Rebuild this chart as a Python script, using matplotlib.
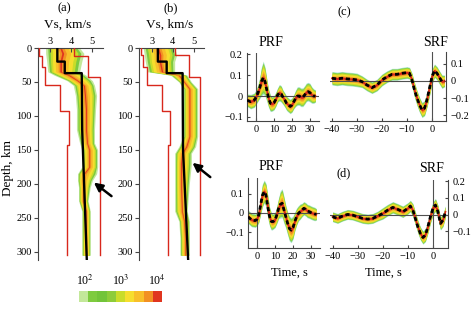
import numpy as np
import matplotlib
matplotlib.use("Agg")
import matplotlib.pyplot as plt
from matplotlib.colors import ListedColormap

W, H = 474, 323

# --- (a), (b): Vs ensemble envelope (depth, outer left, outer right, core) ---
A_Z = [0, 8, 20, 35, 40, 48, 55, 70, 90, 120, 140, 150, 175, 185, 195, 205, 225, 240, 260, 300, 305]
A_LEFT = [2.8, 2.8, 2.85, 2.9, 3.2, 3.8, 4.1, 4.2, 4.25, 4.25, 4.4, 4.5, 4.5, 4.3, 4.3, 4.35, 4.35, 4.5, 4.5, 4.5, 4.5]
A_RIGHT = [4.4, 4.6, 4.5, 4.4, 4.7, 5.0, 5.1, 5.2, 5.15, 5.1, 5.1, 5.25, 5.25, 5.2, 5.0, 4.9, 4.8, 4.9, 4.9, 4.9, 4.9]
A_CORE = [3.5, 3.6, 3.5, 3.5, 3.9, 4.3, 4.6, 4.65, 4.7, 4.7, 4.75, 4.85, 4.85, 4.6, 4.55, 4.55, 4.55, 4.7, 4.7, 4.7, 4.7]

B_Z = [0, 10, 20, 35, 40, 50, 60, 90, 130, 145, 155, 170, 200, 240, 255, 280, 305]
B_LEFT = [2.6, 2.65, 2.7, 2.8, 3.9, 4.3, 4.5, 4.5, 4.5, 4.3, 4.1, 4.1, 4.1, 4.1, 4.3, 4.35, 4.35]
B_RIGHT = [4.1, 4.2, 4.1, 4.1, 4.7, 4.9, 5.2, 5.2, 5.2, 5.1, 4.9, 4.9, 4.8, 4.7, 4.8, 4.8, 4.8]
B_CORE = [3.3, 3.4, 3.4, 3.5, 4.3, 4.55, 4.8, 4.8, 4.8, 4.65, 4.45, 4.4, 4.4, 4.45, 4.55, 4.6, 4.6]

# search bounds: layer top depth and velocity (last point = bottom)
A_RED_L_Z = [0, 12, 28, 55, 92, 143, 305]
A_RED_L_V = [2.5, 2.62, 2.76, 3.47, 3.9, 3.8, 3.8]
A_RED_R_Z = [0, 12, 43, 305]
A_RED_R_V = [4.13, 4.8, 5.35, 5.35]
B_RED_L_Z = [0, 10, 28, 55, 92, 143, 305]
B_RED_L_V = [2.5, 2.6, 2.78, 3.5, 3.87, 3.77, 3.77]
B_RED_R_Z = [0, 10, 43, 305]
B_RED_R_V = [4.1, 4.8, 5.33, 5.33]

# best model
A_BLK_Z = [0, 20, 20, 37, 37, 120, 314]
A_BLK_V = [3.35, 3.35, 3.7, 3.7, 4.5, 4.52, 4.74]
B_BLK_Z = [0, 20, 20, 37, 37, 150, 316]
B_BLK_V = [3.3, 3.3, 3.72, 3.72, 4.48, 4.5, 4.75]

A_ARROW = ((5.07, 198), (5.9, 218))
B_ARROW = ((4.95, 169), (5.8, 190))

# --- (c), (d): receiver functions ---
PRF_T = [-5, -3, -1, 0, 1, 2, 3, 4, 5, 6, 7, 8, 9, 10, 11, 12, 13, 14, 15, 16,
         17, 18, 19, 20, 21, 22, 23, 24, 25, 26, 27, 28, 29, 30, 31, 32, 33]
SRF_T = [-40, -38, -36, -34, -32, -30, -28, -26, -24, -22, -20, -18, -16, -14, -12, -10,
         -9, -8, -7, -6, -5, -4, -3, -2, -1, 0, 1, 2, 3, 4, 5]

PRF_C = [-0.02, -0.027, -0.02, -0.006, 0.013, 0.037, 0.07, 0.088, 0.07, 0.029,
         -0.011, -0.035, -0.038, -0.032, -0.016, 0.005, 0.016, 0.01, -0.006, -0.019,
         -0.035, -0.043, -0.05, -0.043, -0.027, -0.011, 0.0, 0.0, -0.006, -0.006,
         0.005, 0.018, 0.021, 0.016, 0.005, 0.0, 0.0]
PRF_C_SPREAD = [0.03, 0.035, 0.035, 0.035, 0.04, 0.05, 0.07, 0.08, 0.07, 0.055,
                0.045, 0.04, 0.035, 0.035, 0.035, 0.035, 0.04, 0.04, 0.035, 0.035,
                0.035, 0.035, 0.035, 0.035, 0.035, 0.04, 0.045, 0.045, 0.045, 0.045,
                0.045, 0.045, 0.045, 0.045, 0.04, 0.035, 0.03]
SRF_C = [0.016, 0.012, 0.016, 0.012, 0.01, 0.006, -0.004, -0.024, -0.039, -0.024,
         0.006, 0.025, 0.039, 0.039, 0.045, 0.049,
         0.045, 0.006, -0.053, -0.10, -0.14, -0.17, -0.16, -0.11, -0.043, 0.025,
         0.06, 0.045, 0.02, -0.004, 0.0]
SRF_C_SPREAD = [0.04, 0.04, 0.04, 0.04, 0.04, 0.04, 0.035, 0.035, 0.035, 0.035,
                0.035, 0.035, 0.035, 0.035, 0.035, 0.035,
                0.035, 0.04, 0.045, 0.045, 0.045, 0.045, 0.045, 0.045, 0.045, 0.045,
                0.04, 0.04, 0.04, 0.04, 0.035]
PRF_D = [-0.019, -0.036, -0.039, -0.032, -0.01, 0.041, 0.09, 0.11, 0.092, 0.032,
         -0.019, -0.044, -0.044, -0.036, -0.01, 0.024, 0.045, 0.05, 0.015, -0.019,
         -0.053, -0.08, -0.088, -0.075, -0.044, -0.019, -0.002, 0.007, 0.015, 0.024,
         0.019, 0.01, 0.007, 0.002, -0.002, -0.005, -0.007]
PRF_D_SPREAD = [0.035, 0.035, 0.035, 0.035, 0.04, 0.05, 0.06, 0.06, 0.06, 0.06,
                0.05, 0.045, 0.04, 0.04, 0.045, 0.055, 0.07, 0.075, 0.07, 0.06,
                0.06, 0.065, 0.065, 0.06, 0.05, 0.045, 0.04, 0.04, 0.035, 0.035,
                0.035, 0.035, 0.035, 0.035, 0.035, 0.035, 0.03]
SRF_D = [-0.013, -0.023, -0.009, 0.001, -0.003, -0.013, -0.023, -0.027, -0.023, -0.009,
         0.007, 0.027, 0.043, 0.031, 0.017, 0.037,
         0.051, 0.027, -0.023, -0.073, -0.113, -0.137, -0.123, -0.073, -0.013, 0.037,
         0.057, 0.017, -0.053, -0.033, 0.017]
SRF_D_SPREAD = [0.03, 0.03, 0.03, 0.03, 0.03, 0.03, 0.03, 0.03, 0.03, 0.03,
                0.035, 0.035, 0.035, 0.035, 0.035, 0.035,
                0.035, 0.04, 0.04, 0.04, 0.04, 0.04, 0.04, 0.04, 0.04, 0.04,
                0.04, 0.04, 0.04, 0.04, 0.035]

CBAR_COLORS = ["#c3e89a", "#7ecb3f", "#72c43a", "#8dcc3a", "#c9dc2a",
               "#f6de2e", "#f8bf2a", "#f29023", "#e0351f"]
VS_COLORS = ["#c3e89a", "#7ecb3f", "#c9dc2a", "#f6de2e", "#f8bf2a", "#f29023", "#e0351f"]
VS_FRAC = [1.0, 0.86, 0.72, 0.58, 0.38, 0.18, 0.05]
RF_COLORS = ["#a9e3cf", "#86d24a", "#c9dc2a", "#f6de2e", "#f5b02a", "#f08a22", "#e0351f"]
RF_FRAC = [1.0, 0.9, 0.75, 0.6, 0.42, 0.28, 0.12]

SPINE = "#444444"
TICK_FS = 7.5

plt.rcParams["font.family"] = ["Liberation Serif", "DejaVu Serif"]
plt.rcParams["mathtext.fontset"] = "stix"

fig = plt.figure(figsize=(W / 100, H / 100), dpi=100)


def px_axes(l, t, r, b):
    ax = fig.add_axes([l / W, 1 - b / H, (r - l) / W, (b - t) / H])
    ax.patch.set_visible(False)
    return ax


def px_text(x, y, s, **kw):
    fig.text(x / W, 1 - y / H, s, ha="center", va="center", **kw)


def vs_panel(box, xlim, z, left, right, core, red_l, red_r, blk, arrow):
    ax = px_axes(*box)
    z, left, right, core = map(np.asarray, (z, left, right, core))
    for f, col in zip(VS_FRAC, VS_COLORS):
        ax.fill_betweenx(z, core + f * (left - core), core + f * (right - core),
                         color=col, lw=0, zorder=1)
    for zz, vv in (red_l, red_r):
        ax.plot(vv, zz, drawstyle="steps-pre", color="#d8281c", lw=1.0, zorder=3)
    ax.plot(blk[1], blk[0], color="k", lw=1.7, zorder=4)
    ax.annotate("", xy=arrow[0], xytext=arrow[1], annotation_clip=False,
                arrowprops=dict(arrowstyle="-|>,head_length=0.5,head_width=0.25",
                                color="k", lw=1.8, shrinkA=0, shrinkB=0))
    ax.set_xlim(*xlim)
    ax.set_ylim(312, 0)
    ax.xaxis.tick_top()
    ax.set_xticks([3, 4, 5])
    ax.set_yticks([0, 50, 100, 150, 200, 250, 300])
    ax.tick_params(axis="x", direction="in", length=3, pad=1.5, labelsize=TICK_FS,
                   color=SPINE, width=0.8)
    ax.tick_params(axis="y", direction="out", length=3, pad=1.5, labelsize=TICK_FS,
                   color=SPINE, width=0.8)
    for s in ("right", "bottom"):
        ax.spines[s].set_visible(False)
    for s in ("left", "top"):
        ax.spines[s].set_color(SPINE)
        ax.spines[s].set_linewidth(0.8)
    return ax


def rf_panel(box, t, med, spread, xlim, ylim, yticks, ylabels, xticks, side):
    ax = px_axes(*box)
    t, med, spread = map(np.asarray, (t, med, spread))
    for f, col in zip(RF_FRAC, RF_COLORS):
        ax.fill_between(t, med - f * spread, med + f * spread, color=col, lw=0, zorder=1)
    ax.axhline(0, color="#505050", lw=0.8, zorder=2)
    ax.axvline(0, color="#505050", lw=0.8, zorder=2)
    ax.plot(t, med, color="#d8261c", lw=1.2, zorder=3)
    ax.plot(t, med, color="k", lw=2.0, dashes=(1.5, 1.0), zorder=4)
    ax.set_xlim(*xlim)
    ax.set_ylim(*ylim)
    ax.set_xticks(xticks)
    ax.set_xticklabels([str(v).replace("-", "\u2212") for v in xticks])
    ax.set_yticks(yticks)
    ax.set_yticklabels(ylabels)
    other = "right" if side == "left" else "left"
    ax.spines["top"].set_visible(False)
    ax.spines[other].set_visible(False)
    for s in (side, "bottom"):
        ax.spines[s].set_color(SPINE)
        ax.spines[s].set_linewidth(0.8)
    if side == "right":
        ax.yaxis.tick_right()
    ax.tick_params(direction="in", length=2.5, pad=3, labelsize=TICK_FS,
                   color=SPINE, width=0.8)
    return ax


# (a) and (b)
vs_panel((38, 48, 103, 260), (2.44, 5.5), A_Z, A_LEFT, A_RIGHT, A_CORE,
         (A_RED_L_Z, A_RED_L_V), (A_RED_R_Z, A_RED_R_V), (A_BLK_Z, A_BLK_V), A_ARROW)
vs_panel((139, 48, 204, 260), (2.4, 5.5), B_Z, B_LEFT, B_RIGHT, B_CORE,
         (B_RED_L_Z, B_RED_L_V), (B_RED_R_Z, B_RED_R_V), (B_BLK_Z, B_BLK_V), B_ARROW)

px_text(64, 8, "(a)", fontsize=9)
px_text(68, 25, "Vs, km/s", fontsize=9.5)
px_text(171, 8, "(b)", fontsize=9)
px_text(170, 25, "Vs, km/s", fontsize=9.5)
px_text(8, 168, "Depth, km", fontsize=9.5, rotation=90)

# colour scale
cax = px_axes(79, 291, 162, 302)
edges = np.linspace(1.83, 4.14, len(CBAR_COLORS) + 1)
cax.pcolormesh(edges, [0, 1], np.arange(len(CBAR_COLORS))[None, :],
               cmap=ListedColormap(CBAR_COLORS))
cax.set_xlim(1.83, 4.14)
cax.xaxis.tick_top()
cax.set_xticks([2, 3, 4])
cax.set_xticklabels(["10$^2$", "10$^3$", "10$^4$"])
cax.tick_params(length=0, pad=2, labelsize=8.5)
cax.set_yticks([])
for s in cax.spines.values():
    s.set_visible(False)

# (c)
rf_panel((247, 53, 319, 121), PRF_T, PRF_C, PRF_C_SPREAD, (-5, 35), (-0.12, 0.207),
         [-0.1, 0, 0.1, 0.2], ["\u22120.1", "0", "0.1", "0.2"], [0, 10, 20, 30], "left")
rf_panel((329.5, 52, 446, 121), SRF_T, SRF_C, SRF_C_SPREAD, (-41, 5.6), (-0.235, 0.17),
         [-0.2, -0.1, 0, 0.1], ["\u22120.2", "\u22120.1", "0", "0.1"],
         [-40, -30, -20, -10, 0], "right")
# (d)
rf_panel((248, 178, 320, 248), PRF_T, PRF_D, PRF_D_SPREAD, (-5, 35),
         (-0.18, 0.18), [-0.1, 0, 0.1], ["\u22120.1", "0", "0.1"], [0, 10, 20, 30], "left")
rf_panel((330, 180, 448, 248), SRF_T, SRF_D, SRF_D_SPREAD, (-41, 6), (-0.2, 0.207),
         [-0.1, 0, 0.1, 0.2], ["\u22120.1", "0", "0.1", "0.2"],
         [-40, -30, -20, -10, 0], "right")

px_text(344, 12, "(c)", fontsize=9)
px_text(271, 42, "PRF", fontsize=10)
px_text(436, 42, "SRF", fontsize=10)
px_text(344, 173, "(d)", fontsize=9)
px_text(271, 167, "PRF", fontsize=10)
px_text(432, 168, "SRF", fontsize=10)
px_text(289, 273, "Time, s", fontsize=9)
px_text(383, 273, "Time, s", fontsize=9)

fig.savefig("out.png", dpi=100, facecolor="white")
